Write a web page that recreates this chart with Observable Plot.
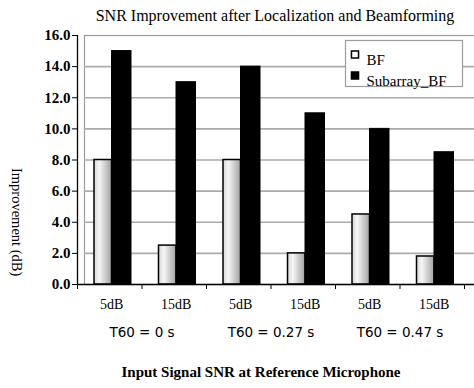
<!DOCTYPE html>
<html>
<head>
<meta charset="utf-8">
<script src="https://cdn.jsdelivr.net/npm/d3@7"></script>
<script src="https://cdn.jsdelivr.net/npm/@observablehq/plot@0.6"></script>
<style>
  body { margin: 0; background: #fff; }
  #chart svg { display: block; }
</style>
</head>
<body>
<div id="chart"></div>
<script>
// ---- data ----
const snrLabels = ["5dB", "15dB", "5dB", "15dB", "5dB", "15dB"];
const t60Labels = ["T60 = 0 s", "T60 = 0.27 s", "T60 = 0.47 s"];
const seriesNames = ["BF", "Subarray_BF"];
const bfValues = [8.0, 2.5, 8.0, 2.0, 4.5, 1.8];
const subarrayValues = [15.0, 13.0, 14.0, 11.0, 10.0, 8.5];
const yTicks = [0, 2, 4, 6, 8, 10, 12, 14, 16];
const titleText = "SNR Improvement after Localization and Beamforming";
const xLabelText = "Input Signal SNR at Reference Microphone";
const yLabelText = "Improvement (dB)";

// ---- layout (bar placement within each category, in category units) ----
const catW = 64.5;
const bfStart = 17 / catW, bfEnd = 34.5 / catW, subEnd = 54 / catW;
const boundaries = d3.range(snrLabels.length + 1);

const serif = "Liberation Serif";

const plot = Plot.plot({
  width: 474,
  height: 388,
  marginLeft: 77,
  marginRight: 10,
  marginTop: 35,
  marginBottom: 104,
  x: {domain: [0, snrLabels.length]},
  y: {domain: [0, 16]},
  style: {fontFamily: serif, background: "white", color: "black", overflow: "hidden"},
  marks: [
    // grey plot-area border
    Plot.frame({stroke: "#9c9c9c", strokeWidth: 1.2, insetLeft: 7, insetRight: -30}),
    // grid lines
    Plot.ruleY(yTicks.slice(1, -1), {stroke: "#ababab", strokeWidth: 1.6, insetLeft: 7, insetRight: -30}),
    // BF bars
    Plot.rectY(bfValues, {
      x1: (d, i) => i + bfStart, x2: (d, i) => i + bfEnd,
      y1: 0, y2: d => d,
      fill: "url(#bfGrad)", stroke: "#000", strokeWidth: 1.5
    }),
    // Subarray_BF bars
    Plot.rectY(subarrayValues, {
      x1: (d, i) => i + bfEnd, x2: (d, i) => i + subEnd,
      y1: 0, y2: d => d,
      fill: "#000", stroke: "#000", strokeWidth: 1
    }),
    // black axis lines (left & bottom)
    Plot.ruleX([0], {stroke: "#000", strokeWidth: 1.3}),
    Plot.ruleY([0], {stroke: "#000", strokeWidth: 1.3, insetRight: -30}),
    // y axis
    Plot.axisY({
      ticks: yTicks, tickFormat: d => d.toFixed(1), tickSize: 5, tickPadding: 2,
      fontSize: 15, fontWeight: "bold", label: null
    }),
    // x axis boundary ticks
    Plot.axisX({ticks: boundaries, tickFormat: () => "", tickSize: 5, label: null}),
    // category labels
    Plot.text(snrLabels, {x: (d, i) => i + 0.5, frameAnchor: "bottom", dy: 24, dx: 2, fontSize: 14}),
    // group labels
    Plot.text(t60Labels, {x: (d, i) => 2 * i + 1, frameAnchor: "bottom", dy: 52, fontSize: 13.5, fontFamily: "DejaVu Sans"}),
    // title
    Plot.text([titleText], {frameAnchor: "top", dy: -26, dx: 4, fontSize: 16}),
    // x title
    Plot.text([xLabelText], {frameAnchor: "bottom", dy: 92, dx: -10, fontSize: 15, fontWeight: "bold"}),
    // y title
    Plot.text([yLabelText], {frameAnchor: "left", dx: -61, dy: 8, rotate: 90, fontSize: 14.5}),
    // legend box
    Plot.frame({stroke: "#9c9c9c", strokeWidth: 1.2, fill: "white", insetLeft: 268, insetRight: 2, insetTop: 5, insetBottom: 198}),
    Plot.dot([seriesNames[0]], {frameAnchor: "top-left", dx: 277.5, dy: 19, symbol: "square", r: 4, fill: "white", stroke: "#000", strokeWidth: 1.5}),
    Plot.dot([seriesNames[1]], {frameAnchor: "top-left", dx: 277.5, dy: 40, symbol: "square", r: 4, fill: "#000", stroke: "#000"}),
    Plot.text([seriesNames[0]], {frameAnchor: "top-left", dx: 289, dy: 19, textAnchor: "start", fontSize: 15}),
    Plot.text([seriesNames[1]], {frameAnchor: "top-left", dx: 289, dy: 40, textAnchor: "start", fontSize: 15})
  ]
});

// gradient for BF bars
const defs = d3.select(plot).insert("defs", ":first-child");
const grad = defs.append("linearGradient").attr("id", "bfGrad").attr("x1", "0%").attr("x2", "100%").attr("y1", "0%").attr("y2", "0%");
grad.append("stop").attr("offset", "0%").attr("stop-color", "#d6d6d6");
grad.append("stop").attr("offset", "30%").attr("stop-color", "#f6f6f6");
grad.append("stop").attr("offset", "100%").attr("stop-color", "#a2a2a2");

document.getElementById("chart").appendChild(plot);
</script>
</body>
</html>
